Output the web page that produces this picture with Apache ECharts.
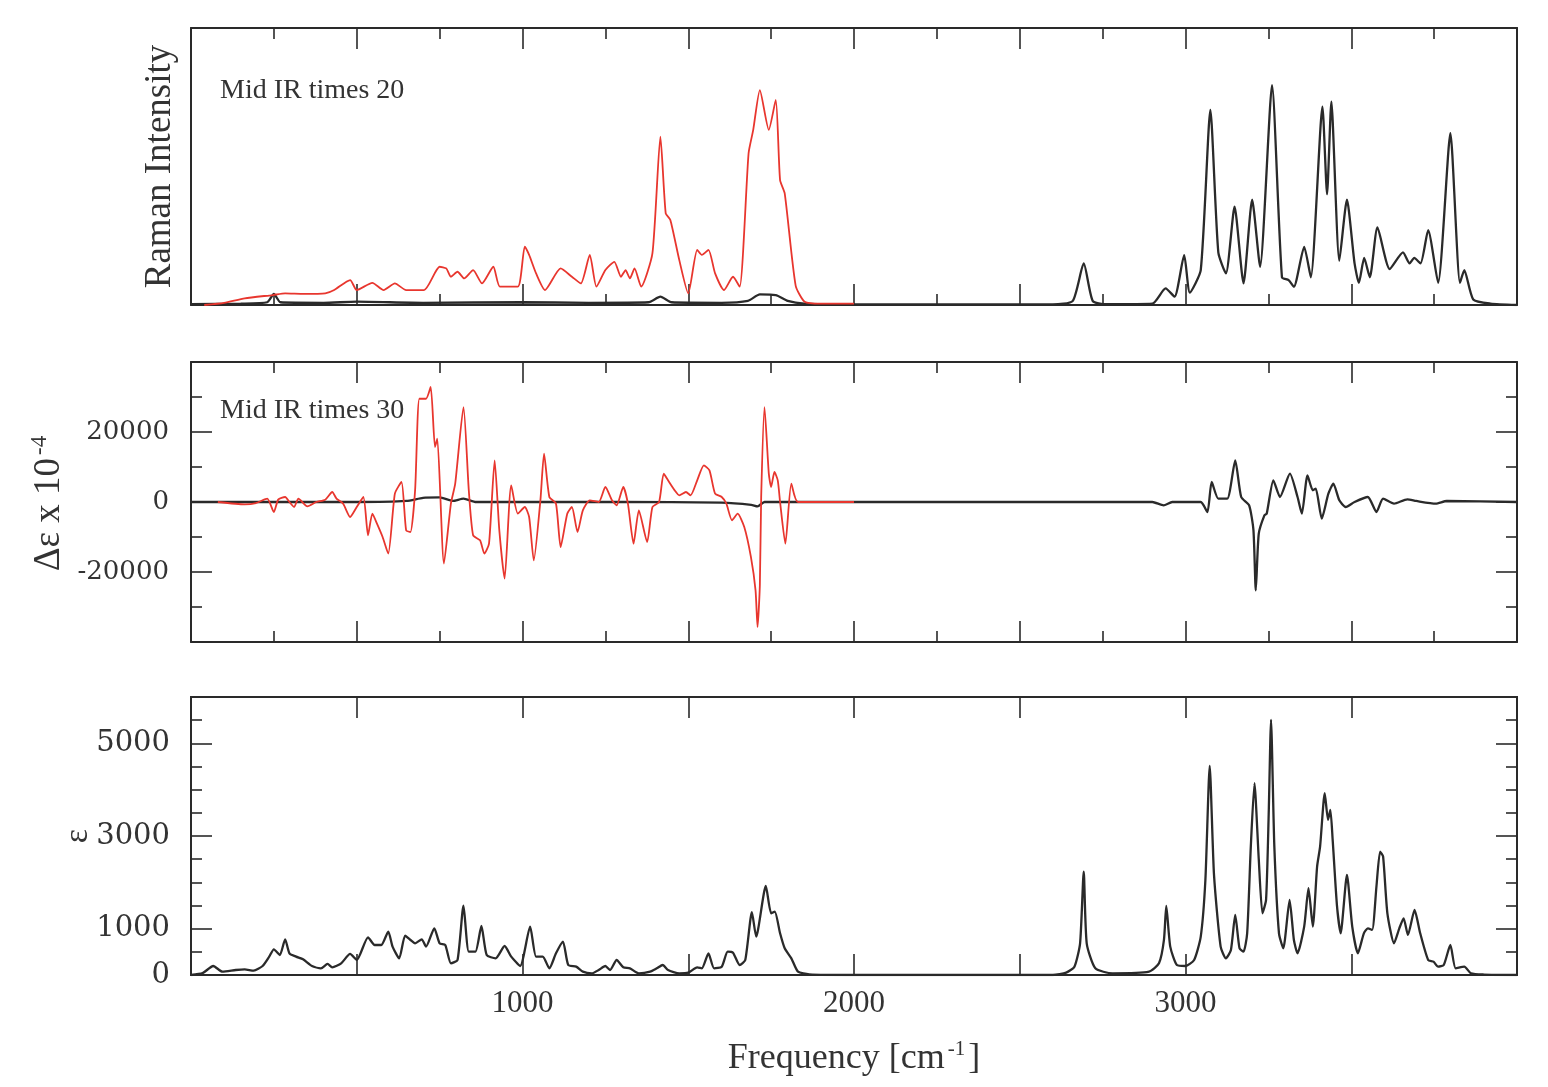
<!DOCTYPE html>
<html>
<head>
<meta charset="utf-8">
<script src="https://cdn.jsdelivr.net/npm/echarts@6/dist/echarts.min.js"></script>
<style>
  html, body { margin: 0; padding: 0; background: #fff; }
  #chart { width: 1548px; height: 1087px; }
</style>
</head>
<body>
<div id="chart"></div>
<script>
// == Data ==================================================================
// [frequency cm^-1, value]

// Raman intensity (arbitrary units, 0-100)
const ramanBlack = [
  [0, 0.3], [150, 0.5], [230, 1], [250, 4], [270, 1], [400, 0.8], [500, 1.2], [700, 0.8],
  [1000, 1], [1200, 0.8], [1380, 1], [1416, 3], [1450, 1], [1600, 0.8], [1680, 1.5],
  [1716, 3.8], [1764, 3.6], [1800, 1.5], [1850, 0.5], [2000, 0.2], [2600, 0.2], [2660, 1.5],
  [2693, 15], [2720, 1.5], [2760, 0.3], [2900, 0.5], [2940, 6], [2967, 3], [2996, 18],
  [3013, 4.5], [3046, 12.6], [3075, 70.4], [3099, 19], [3122, 11.4], [3148, 35.5], [3175, 7.8],
  [3201, 38], [3225, 13.8], [3261, 79.4], [3291, 10], [3311, 9], [3327, 6.6], [3358, 21],
  [3378, 10], [3413, 71.6], [3427, 40], [3440, 73.4], [3464, 16], [3487, 38], [3510, 15],
  [3523, 8], [3539, 17], [3556, 10], [3579, 28], [3616, 13], [3656, 19], [3676, 15],
  [3690, 17], [3709, 15], [3732, 27], [3762, 8], [3799, 62], [3828, 8], [3841, 12.6],
  [3868, 2], [3920, 0.5], [4000, 0]
]
const ramanMidIR = [
  [40, 0], [100, 0.8], [162, 2.4], [247, 3.6], [284, 4.2], [340, 4.0], [405, 4.2], [432, 5.4],
  [480, 9.0], [500, 5.4], [547, 8.0], [581, 5.4], [615, 7.8], [649, 5.4], [703, 5.4],
  [750, 13.8], [770, 13.2], [784, 10.2], [804, 12.0], [824, 9.6], [851, 12.6], [878, 7.8],
  [912, 13.8], [932, 6.6], [986, 6.6], [1007, 21.1], [1020, 18.1], [1041, 11.4], [1068, 5.4],
  [1115, 13.2], [1149, 10.2], [1176, 7.8], [1203, 18.1], [1223, 6.6], [1250, 12.6],
  [1277, 15.6], [1297, 10.2], [1311, 12.6], [1324, 9.6], [1338, 13.2], [1358, 6.6],
  [1392, 18.7], [1416, 60.8], [1432, 33.1], [1446, 30.7], [1473, 16.2], [1500, 4.2],
  [1527, 19.9], [1541, 18.1], [1561, 19.9], [1581, 11.4], [1608, 5.4], [1635, 10.2],
  [1655, 6.6], [1682, 54.8], [1696, 63.2], [1716, 77.6], [1743, 63.2], [1764, 74.0],
  [1777, 45.1], [1791, 40.3], [1824, 7], [1851, 1.2], [1900, 0.5], [2000, 0.5]
]

// Delta epsilon x 10^-4
const cdBlack = [
  [0, 0], [500, 0], [650, 300], [700, 1200], [750, 1300], [790, 300], [822, 950], [860, 0],
  [1300, 0], [1600, -200], [1690, -800], [1709, -1240], [1730, 0], [2900, 0], [2934, -950],
  [2960, 0], [3046, 0], [3066, -2860], [3079, 5710], [3099, 950], [3126, 950], [3150, 11900],
  [3168, 1430], [3192, -950], [3205, -8100], [3212, -25240], [3221, -9050], [3238, -3800],
  [3245, -3330], [3265, 6190], [3285, 1430], [3315, 8100], [3338, 1430], [3351, -3330],
  [3368, 7620], [3384, 3330], [3393, 3810], [3411, -4760], [3431, 2380], [3446, 5240],
  [3464, 480], [3483, -1430], [3510, 0], [3550, 1430], [3576, -2860], [3596, 950],
  [3629, -480], [3669, 760], [3696, 290], [3755, -480], [3788, 290], [4000, 0]
]
const cdMidIR = [
  [81, 0], [162, -670], [196, -300], [230, 950], [250, -2860], [263, 670], [284, 1430],
  [297, 0], [311, -1430], [324, 950], [351, -1240], [378, 0], [405, 670], [426, 2860],
  [439, 950], [459, -480], [480, -4290], [500, -1430], [520, 1430], [534, -9520],
  [547, -3330], [561, -6190], [578, -10000], [595, -14760], [615, 2380], [635, 5710],
  [649, -8100], [662, -8570], [676, 3330], [689, 29500], [709, 29500], [723, 32860],
  [736, 15700], [743, 18100], [763, -17600], [784, -480], [797, 5240], [822, 27100],
  [838, 3330], [851, -9520], [872, -10950], [885, -14760], [899, -11900], [916, 11900],
  [930, -8000], [946, -21900], [966, 4760], [986, -3330], [1007, -1430], [1020, -4290],
  [1034, -16700], [1054, 480], [1065, 13800], [1081, 1430], [1101, -480], [1115, -12860],
  [1135, -3330], [1149, -1430], [1166, -8570], [1182, -2380], [1203, 480], [1230, 0],
  [1250, 4290], [1270, 480], [1284, -950], [1304, 4290], [1318, -480], [1335, -11900],
  [1351, -2380], [1376, -11430], [1392, -1430], [1412, 0], [1426, 8100], [1439, 6190],
  [1459, 3330], [1473, 1900], [1493, 2860], [1507, 1900], [1527, 6190], [1547, 10480],
  [1564, 9050], [1581, 2380], [1601, 1430], [1615, -480], [1632, -5240], [1649, -3330],
  [1669, -7140], [1689, -15700], [1703, -25240], [1709, -35700], [1716, -23800],
  [1720, 1430], [1730, 27100], [1743, 8100], [1750, 4290], [1760, 8570], [1770, 6190],
  [1777, 0], [1793, -11900], [1811, 5240], [1831, 0], [2000, 0]
]

// epsilon
const irBlack = [
  [0, 0], [35, 40], [67, 194], [95, 72], [135, 108], [162, 122], [189, 94], [216, 194],
  [236, 396], [250, 554], [268, 432], [284, 770], [297, 468], [317, 396], [338, 338],
  [365, 194], [392, 144], [412, 238], [426, 166], [453, 252], [480, 454], [500, 324],
  [534, 814], [554, 648], [574, 648], [595, 936], [608, 612], [628, 360], [646, 850],
  [662, 756], [676, 684], [696, 770], [709, 612], [734, 1008], [750, 684], [767, 648],
  [784, 252], [804, 324], [822, 1498], [838, 504], [858, 504], [876, 1058], [892, 432],
  [919, 360], [946, 626], [966, 396], [993, 194], [1023, 1044], [1041, 396], [1061, 396],
  [1081, 144], [1101, 468], [1122, 720], [1138, 216], [1162, 180], [1182, 72], [1209, 36],
  [1230, 108], [1250, 194], [1264, 108], [1284, 324], [1304, 166], [1324, 144], [1351, 36],
  [1385, 72], [1405, 144], [1423, 216], [1439, 108], [1473, 36], [1500, 50], [1527, 166],
  [1541, 144], [1561, 468], [1578, 144], [1601, 180], [1619, 504], [1635, 482], [1655, 216],
  [1672, 324], [1692, 1354], [1705, 828], [1734, 1922], [1750, 1332], [1761, 1368],
  [1777, 900], [1791, 576], [1811, 360], [1831, 72], [1865, 14], [2000, 0], [2600, 0],
  [2640, 50], [2665, 180], [2682, 684], [2693, 2232], [2702, 684], [2728, 144], [2780, 36],
  [2890, 72], [2920, 252], [2935, 756], [2942, 1490], [2954, 612], [2974, 216], [3000, 194],
  [3026, 324], [3046, 828], [3060, 2050], [3073, 4514], [3086, 2160], [3106, 612],
  [3122, 360], [3137, 540], [3150, 1296], [3163, 576], [3175, 504], [3186, 900],
  [3197, 2770], [3208, 4140], [3221, 2500], [3232, 1332], [3243, 1620], [3251, 3480],
  [3258, 5508], [3268, 2770], [3282, 900], [3295, 576], [3314, 1620], [3327, 756],
  [3338, 468], [3358, 1044], [3371, 1872], [3384, 1044], [3397, 2340], [3406, 2770],
  [3420, 3924], [3430, 3350], [3437, 3564], [3444, 2910], [3457, 1490], [3468, 900],
  [3487, 2160], [3503, 1044], [3520, 468], [3538, 900], [3550, 1008], [3563, 972],
  [3576, 1910], [3587, 2664], [3596, 2560], [3609, 1332], [3629, 684], [3645, 1008],
  [3658, 1224], [3671, 864], [3691, 1404], [3708, 900], [3732, 324], [3748, 288],
  [3762, 180], [3779, 216], [3799, 648], [3815, 144], [3841, 180], [3861, 36], [3900, 10],
  [4000, 0]
]

// tick labels
const freqLabels = [1000, 2000, 3000]
const cdLabels = [20000, 0, -20000]
const irLabels = [0, 1000, 3000, 5000]
const irLongTicks = [1000, 3000, 5000]
const irShortTicks = [500, 1500, 2000, 2500, 3500, 4000, 4500, 5500]

// == Style =================================================================
const INK = '#2a2a2a'
const RED = '#e8362e'
const SERIF = 'Liberation Serif'
const WIDE_SERIF = 'DejaVu Serif'
const LONG = 21
const SHORT = 11

const grids = [
  {left: 191, top: 28, width: 1326, height: 277},
  {left: 191, top: 362, width: 1326, height: 280},
  {left: 191, top: 697, width: 1326, height: 278}
]

const axisLine = {show: true, onZero: false, lineStyle: {color: INK, width: 2}}
const tickStyle = {color: INK, width: 1.6}

function freqAxis (grid, position, minor, labels) {
  return {
    type: 'value', gridIndex: grid, position, min: 0, max: 4000, interval: 500,
    axisLine,
    splitLine: {show: false},
    axisTick: {show: true, inside: true, length: LONG, lineStyle: tickStyle},
    minorTick: {show: minor, splitNumber: 2, length: SHORT, lineStyle: tickStyle},
    axisLabel: labels ? {
      show: true, margin: 13, color: '#333', fontFamily: SERIF, fontSize: 31,
      formatter: v => freqLabels.includes(v) ? String(v) : ''
    } : {show: false}
  }
}

const xAxes = [
  freqAxis(0, 'bottom', true, false), freqAxis(0, 'top', true, false),
  freqAxis(1, 'bottom', true, false), freqAxis(1, 'top', true, false),
  freqAxis(2, 'bottom', false, true), freqAxis(2, 'top', false, false)
]
xAxes[4].name = '{n|Frequency [cm}{s|-1}{n|]}'
xAxes[4].nameLocation = 'middle'
xAxes[4].nameGap = 64
xAxes[4].nameTextStyle = {
  color: '#333',
  rich: {
    n: {fontFamily: SERIF, fontSize: 36, color: '#333'},
    s: {fontFamily: SERIF, fontSize: 21, color: '#333', padding: [0, 3, 18, 3]}
  }
}

const yAxes = [
  // Raman
  {
    type: 'value', gridIndex: 0, position: 'left', min: 0, max: 100,
    axisLine, axisTick: {show: false}, axisLabel: {show: false}, splitLine: {show: false},
    name: 'Raman Intensity', nameLocation: 'middle', nameGap: 12, nameRotate: 90,
    nameTextStyle: {fontFamily: SERIF, fontSize: 37, color: '#333'}
  },
  {
    type: 'value', gridIndex: 0, position: 'right', min: 0, max: 100,
    axisLine, axisTick: {show: false}, axisLabel: {show: false}, splitLine: {show: false}
  },
  // Delta epsilon
  {
    type: 'value', gridIndex: 1, position: 'left', min: -40000, max: 40000, interval: 20000,
    axisLine, splitLine: {show: false},
    axisTick: {show: true, inside: true, length: LONG, lineStyle: tickStyle},
    minorTick: {show: true, splitNumber: 2, length: SHORT, lineStyle: tickStyle},
    axisLabel: {
      show: true, margin: 22, color: '#333', fontFamily: WIDE_SERIF, fontSize: 26,
      formatter: v => cdLabels.includes(v) ? String(v) : ''
    },
    name: '{n|Δε x 10}{s|-4}', nameLocation: 'middle', nameGap: 120, nameRotate: 90,
    nameMoveOverlap: false,
    nameTextStyle: {
      color: '#333',
      rich: {
        n: {fontFamily: SERIF, fontSize: 37, color: '#333'},
        s: {fontFamily: SERIF, fontSize: 23, color: '#333', padding: [0, 3, 20, 3]}
      }
    }
  },
  {
    type: 'value', gridIndex: 1, position: 'right', min: -40000, max: 40000, interval: 20000,
    axisLine, splitLine: {show: false}, axisLabel: {show: false},
    axisTick: {show: true, inside: true, length: LONG, lineStyle: tickStyle},
    minorTick: {show: true, splitNumber: 2, length: SHORT, lineStyle: tickStyle}
  },
  // epsilon
  {
    type: 'value', gridIndex: 2, position: 'left', min: 0, max: 6000,
    axisLine, splitLine: {show: false},
    axisTick: {show: true, inside: true, length: LONG, customValues: irLongTicks, lineStyle: tickStyle},
    axisLabel: {
      show: true, margin: 21, color: '#333', fontFamily: WIDE_SERIF, fontSize: 29,
      customValues: irLabels, formatter: v => String(v)
    },
    name: 'ε', nameLocation: 'middle', nameGap: 96, nameRotate: 90,
    nameMoveOverlap: false,
    nameTextStyle: {fontFamily: SERIF, fontSize: 34, color: '#333'}
  },
  {
    type: 'value', gridIndex: 2, position: 'left', min: 0, max: 6000,
    axisLine, splitLine: {show: false}, axisLabel: {show: false},
    axisTick: {show: true, inside: true, length: SHORT, customValues: irShortTicks, lineStyle: tickStyle}
  },
  {
    type: 'value', gridIndex: 2, position: 'right', min: 0, max: 6000,
    axisLine, splitLine: {show: false}, axisLabel: {show: false},
    axisTick: {show: true, inside: true, length: LONG, customValues: irLongTicks, lineStyle: tickStyle}
  },
  {
    type: 'value', gridIndex: 2, position: 'right', min: 0, max: 6000,
    axisLine, splitLine: {show: false}, axisLabel: {show: false},
    axisTick: {show: true, inside: true, length: SHORT, customValues: irShortTicks, lineStyle: tickStyle}
  }
]

function line (data, xi, yi, color, width) {
  return {
    type: 'line', data, xAxisIndex: xi, yAxisIndex: yi,
    showSymbol: false, smooth: 0.2, animation: false, silent: true,
    lineStyle: {color, width}
  }
}

const option = {
  backgroundColor: '#fff',
  animation: false,
  grid: grids,
  xAxis: xAxes,
  yAxis: yAxes,
  graphic: [
    {type: 'text', left: 220, top: 77, style: {text: 'Mid IR times 20', font: '28px "Liberation Serif"', fill: '#333'}},
    {type: 'text', left: 220, top: 397, style: {text: 'Mid IR times 30', font: '28px "Liberation Serif"', fill: '#333'}}
  ],
  series: [
    line(ramanBlack, 0, 0, INK, 2.3),
    line(ramanMidIR, 0, 0, RED, 1.8),
    line(cdBlack, 2, 2, INK, 2.3),
    line(cdMidIR, 2, 2, RED, 1.8),
    line(irBlack, 4, 4, INK, 2.3)
  ]
}

echarts.init(document.getElementById('chart')).setOption(option)
</script>
</body>
</html>
